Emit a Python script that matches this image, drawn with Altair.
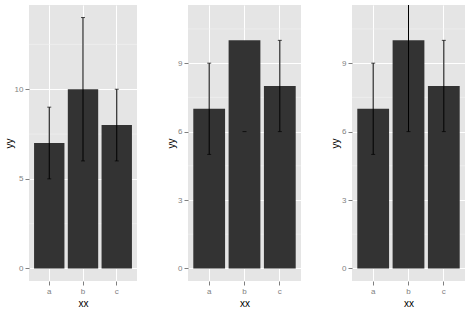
import altair as alt
import pandas as pd

# data
xx = ["a", "b", "c"]
yy = [7, 10, 8]
lo = [5, 6, 6]
hi = [9, 14, 10]
hi_panel2 = [9, None, 10]   # upper value removed by the y limits in panel 2

ticks_p1 = [0, 5, 10]
minor_p1 = [2.5, 7.5, 12.5]
ticks_p23 = [0, 3, 6, 9]
minor_p23 = [1.5, 4.5, 7.5, 10.5]

domain_p1 = [-0.7, 14.7]
domain_p23 = [-0.55, 11.55]

FONT = "Liberation Sans"
H = 276


def panel(width, ydomain, yticks, minor, his, title_pad):
    df = pd.DataFrame({"xx": xx, "yy": yy, "lo": lo, "hi": his})
    base = alt.Chart(df)
    yscale = alt.Scale(domain=ydomain, nice=False, zero=False)
    xscale = alt.Scale(paddingInner=0.1, paddingOuter=0.15)
    yaxis = alt.Axis(
        values=yticks, grid=True, gridColor="white", gridWidth=1,
        tickSize=4, tickColor="#7F7F7F", labelColor="#7F7F7F",
        labelFontSize=8, labelPadding=2, titleFontSize=10,
        titlePadding=title_pad, titleFontWeight="normal",
        domain=False, titleColor="black",
    )
    xaxis = alt.Axis(
        labelAngle=0, grid=True, gridColor="white", gridWidth=1,
        tickSize=4, tickColor="#7F7F7F", labelColor="#7F7F7F",
        labelFontSize=8, labelPadding=2, titleFontSize=10,
        titlePadding=3, titleFontWeight="normal", domain=False,
        titleColor="black",
    )
    xenc = alt.X("xx:N", title="xx", scale=xscale, axis=xaxis)
    minor_layer = alt.Chart(pd.DataFrame({"m": minor})).mark_rule(
        color="#F2F2F2", strokeWidth=0.6
    ).encode(y=alt.Y("m:Q", scale=yscale, title="yy", axis=yaxis))
    bars = base.mark_bar(color="#333333", clip=True).encode(
        x=xenc,
        y=alt.Y("yy:Q", scale=yscale, title="yy", axis=yaxis),
        y2=alt.datum(0),
    )
    err = base.transform_filter("isValid(datum.hi)").mark_rule(
        color="black", strokeWidth=1, clip=True
    ).encode(x=xenc, y=alt.Y("lo:Q", scale=yscale, title="yy", axis=yaxis), y2="hi:Q")
    cap_lo = base.mark_tick(color="black", size=4, thickness=1, clip=True).encode(
        x=xenc, y=alt.Y("lo:Q", scale=yscale, title="yy", axis=yaxis)
    )
    cap_hi = base.transform_filter("isValid(datum.hi)").mark_tick(
        color="black", size=4, thickness=1, clip=True
    ).encode(x=xenc, y=alt.Y("hi:Q", scale=yscale, title="yy", axis=yaxis))
    return alt.layer(minor_layer, bars, err, cap_lo, cap_hi).properties(
        width=width, height=H
    )


p1 = panel(108, domain_p1, ticks_p1, minor_p1, hi, 0)
p2 = panel(113, domain_p23, ticks_p23, minor_p23, hi_panel2, 1)
p3 = panel(113, domain_p23, ticks_p23, minor_p23, hi, 1)

chart = alt.hconcat(p1, p2, p3, spacing=28).properties(
    padding={"left": 4, "top": 5, "right": 2, "bottom": 2},
    background="white",
).configure(font=FONT).configure_view(fill="#E5E5E5", stroke=None)

chart.save("out.html", embed_options={"renderer": "svg", "actions": False})
